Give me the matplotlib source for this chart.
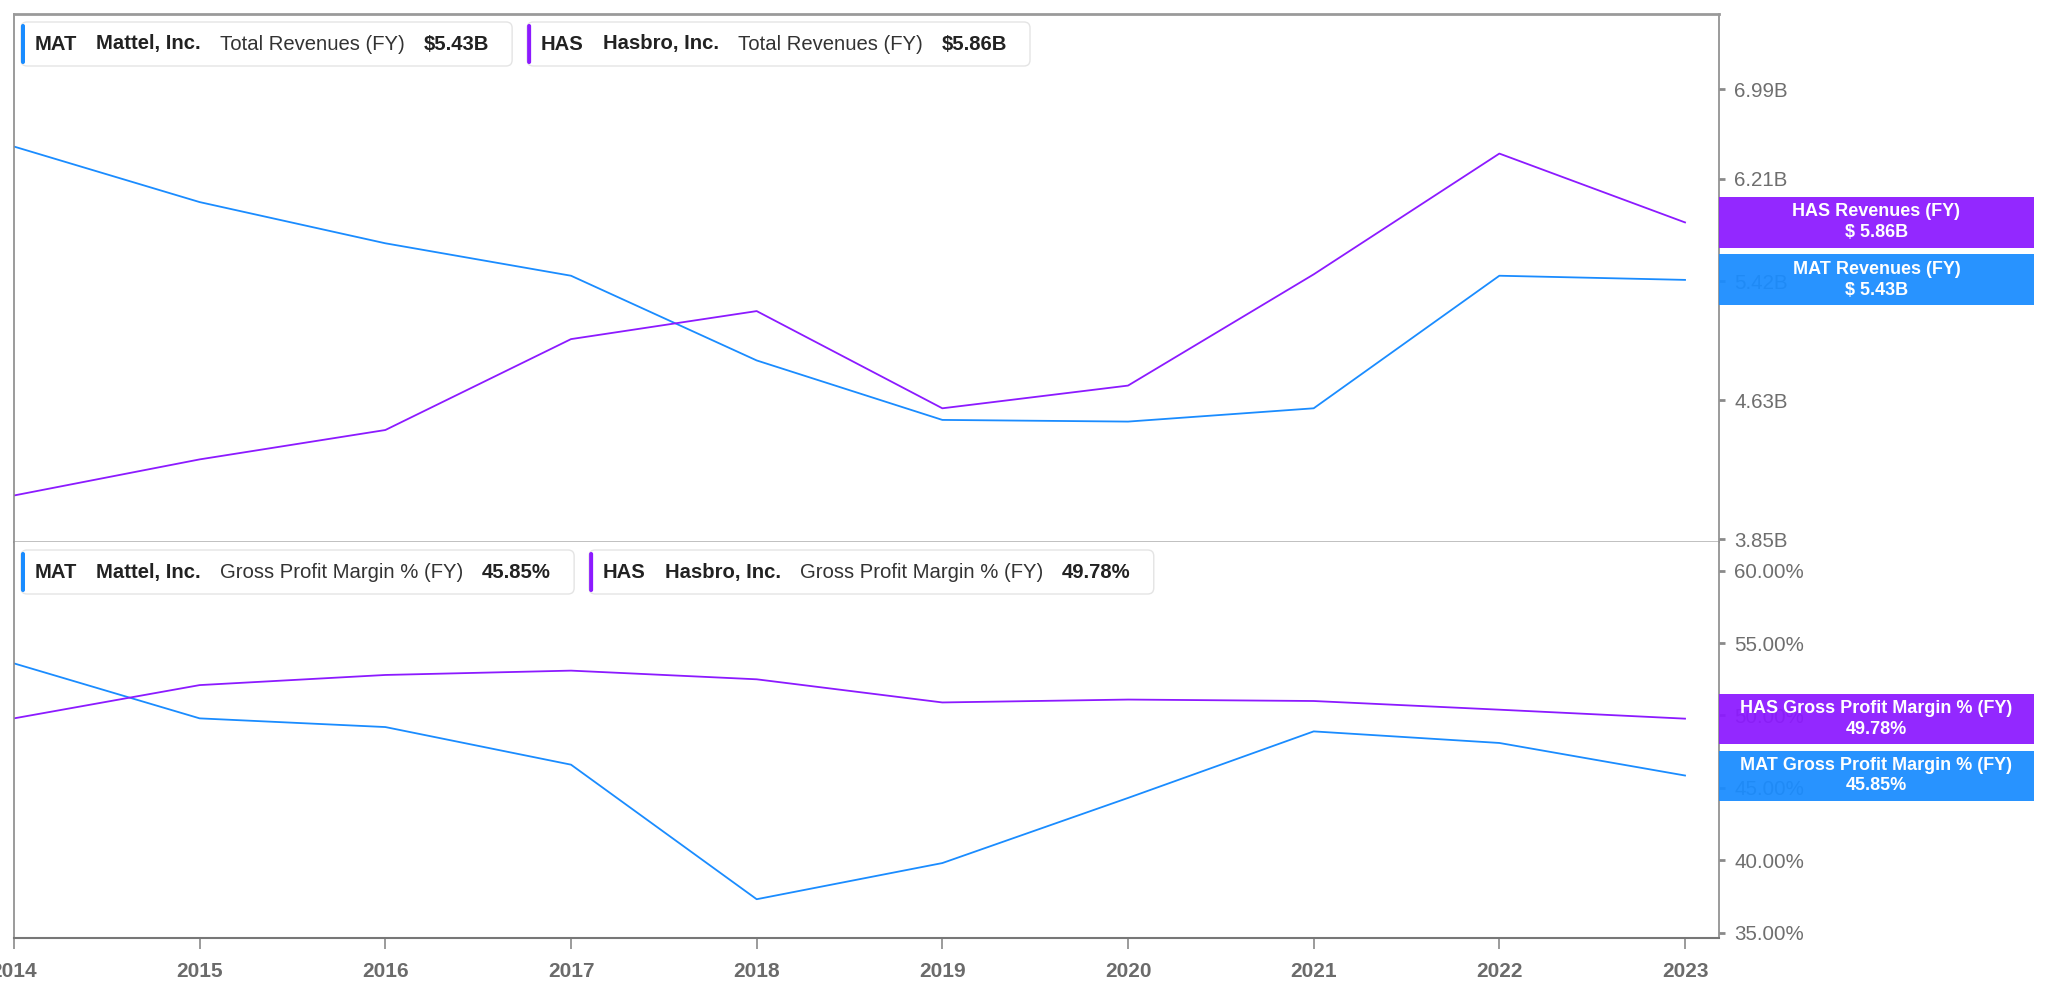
import matplotlib
matplotlib.use("Agg")
import matplotlib.pyplot as plt
from matplotlib.patches import FancyBboxPatch, Rectangle
from matplotlib.ticker import NullLocator
from matplotlib.transforms import IdentityTransform

plt.rcParams['font.family'] = ['Liberation Sans', 'DejaVu Sans']

# data
years = [2014, 2015, 2016, 2017, 2018, 2019, 2020, 2021, 2022, 2023]
mat_revenue = [6.48, 6.02, 5.70, 5.46, 4.88, 4.51, 4.50, 4.58, 5.46, 5.43]
has_revenue = [4.08, 4.28, 4.45, 5.02, 5.21, 4.58, 4.72, 5.47, 6.42, 5.86]
mat_margin = [53.6, 49.8, 49.2, 46.6, 37.3, 39.8, 44.3, 48.9, 48.1, 45.85]
has_margin = [49.8, 52.1, 52.8, 53.1, 52.5, 50.9, 51.1, 51.0, 50.4, 49.78]
rev_ticks = [3.85, 4.63, 5.42, 6.21, 6.99]
margin_ticks = [35, 40, 45, 50, 55, 60]

MAT_C = '#1a8cff'
HAS_C = '#8c1aff'
GRID_C = '#8a8a8a'
LABEL_C = '#6e6e6e'

W, H = 2048, 996
fig = plt.figure(figsize=(W / 100, H / 100), dpi=100)
fig.patch.set_facecolor('white')


def px_rect(l, t, r, b):
    return [l / W, 1 - b / H, (r - l) / W, (b - t) / H]


ax1 = fig.add_axes(px_rect(14, 14, 1719, 542))
ax2 = fig.add_axes(px_rect(14, 542, 1719, 938), sharex=ax1)

# --- top panel: revenues (log scale) ---
ax1.plot(years, mat_revenue, color=MAT_C, lw=1.3)
ax1.plot(years, has_revenue, color=HAS_C, lw=1.3)
ax1.set_yscale('log')
ax1.set_ylim(3.836, 7.725)
ax1.set_yticks(rev_ticks)
ax1.set_yticklabels([f"{v:.2f}B" for v in rev_ticks])
ax1.yaxis.set_minor_locator(NullLocator())

# --- bottom panel: gross margin ---
ax2.plot(years, mat_margin, color=MAT_C, lw=1.3)
ax2.plot(years, has_margin, color=HAS_C, lw=1.3)
ax2.set_ylim(34.62, 61.99)
ax2.set_yticks(margin_ticks)
ax2.set_yticklabels([f"{v:.2f}%" for v in margin_ticks])

ax2.set_xlim(2014, 2023.183)
ax2.set_xticks(years)
ax2.set_xticklabels([str(y) for y in years])

for ax in (ax1, ax2):
    ax.yaxis.tick_right()
    ax.tick_params(axis='y', direction='out', length=4, width=2, color=GRID_C,
                   labelsize=14.8, labelcolor=LABEL_C, pad=7)
    for s in ax.spines.values():
        s.set_color(GRID_C)
        s.set_linewidth(1.2)

ax1.tick_params(axis='x', bottom=False, labelbottom=False)
ax1.spines['bottom'].set_color('#b5b5b5')
ax1.spines['top'].set_color('#9a9a9a')
ax1.spines['top'].set_linewidth(2)
ax2.spines['top'].set_visible(False)
ax2.spines['bottom'].set_color('#777777')
ax2.spines['bottom'].set_linewidth(1.5)
ax2.tick_params(axis='x', direction='out', length=8, width=1.2, color=GRID_C,
                labelsize=15, labelcolor='#6b6b6b', pad=9)
for lbl in ax2.get_xticklabels():
    lbl.set_fontweight('bold')

# --- value tags on the right axis ---
tag_left, tag_right = 1719, 2034


def value_tag(ax, yval, color, line1, line2, height=51):
    _, ydisp = ax.transData.transform((2020, yval))
    fig.add_artist(Rectangle((tag_left, ydisp - height / 2), tag_right - tag_left, height,
                             transform=IdentityTransform(), facecolor=color, edgecolor='none',
                             alpha=0.94, zorder=5))
    fig.text((tag_left + tag_right) / 2 / W, ydisp / H, f"{line1}\n{line2}",
             ha='center', va='center', color='white', fontsize=13, fontweight='bold',
             linespacing=1.3, zorder=6)


value_tag(ax1, has_revenue[-1], HAS_C, "HAS Revenues (FY)", f"$ {has_revenue[-1]:.2f}B")
value_tag(ax1, mat_revenue[-1], MAT_C, "MAT Revenues (FY)", f"$ {mat_revenue[-1]:.2f}B")
value_tag(ax2, has_margin[-1], HAS_C, "HAS Gross Profit Margin % (FY)", f"{has_margin[-1]:.2f}%", 50)
value_tag(ax2, mat_margin[-1], MAT_C, "MAT Gross Profit Margin % (FY)", f"{mat_margin[-1]:.2f}%", 50)

# --- legend chips ---
renderer = fig.canvas.get_renderer()


def legend_chip(x0, ytop, ybot, color, pieces, gap=19, pad_l=14, pad_r=23):
    yc = (ytop + ybot) / 2
    x = x0 + pad_l
    for text, weight, tcol in pieces:
        t = fig.text(x / W, 1 - yc / H, text, ha='left', va='center', fontsize=14.6,
                     fontweight=weight, color=tcol, zorder=6)
        bb = t.get_window_extent(renderer)
        x += bb.width + gap
    x1 = x - gap + pad_r
    fig.add_artist(FancyBboxPatch((x0, H - ybot), x1 - x0, ybot - ytop,
                                  boxstyle="round,pad=0,rounding_size=6",
                                  transform=IdentityTransform(), facecolor='white',
                                  edgecolor='#e4e4e4', lw=1, zorder=4))
    fig.add_artist(FancyBboxPatch((x0, H - ybot + 2), 4, ybot - ytop - 4,
                                  boxstyle="round,pad=0,rounding_size=2",
                                  transform=IdentityTransform(), facecolor=color,
                                  edgecolor='none', zorder=5))
    return x1


end = legend_chip(21, 22, 66, MAT_C, [("MAT", 'bold', '#222222'), ("Mattel, Inc.", 'bold', '#222222'),
                                      ("Total Revenues (FY)", 'normal', '#333333'),
                                      (f"${mat_revenue[-1]:.2f}B", 'bold', '#222222')])
legend_chip(end + 15, 22, 66, HAS_C, [("HAS", 'bold', '#222222'), ("Hasbro, Inc.", 'bold', '#222222'),
                                      ("Total Revenues (FY)", 'normal', '#333333'),
                                      (f"${has_revenue[-1]:.2f}B", 'bold', '#222222')])

end = legend_chip(21, 550, 594, MAT_C, [("MAT", 'bold', '#222222'), ("Mattel, Inc.", 'bold', '#222222'),
                                        ("Gross Profit Margin % (FY)", 'normal', '#333333'),
                                        (f"{mat_margin[-1]:.2f}%", 'bold', '#222222')])
legend_chip(end + 15, 550, 594, HAS_C, [("HAS", 'bold', '#222222'), ("Hasbro, Inc.", 'bold', '#222222'),
                                        ("Gross Profit Margin % (FY)", 'normal', '#333333'),
                                        (f"{has_margin[-1]:.2f}%", 'bold', '#222222')])

fig.savefig("out.png", dpi=100, facecolor='white')
